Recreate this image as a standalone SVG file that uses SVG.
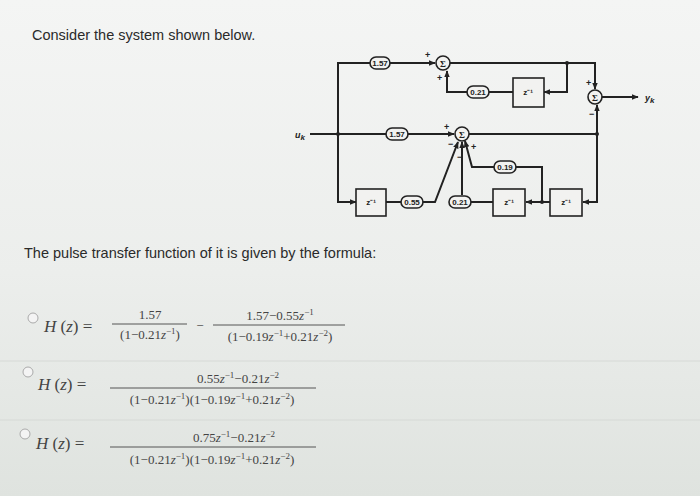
<svg xmlns="http://www.w3.org/2000/svg" width="700" height="496" viewBox="0 0 700 496">
<defs>
<linearGradient id="bg" x1="0" y1="0" x2="0" y2="1"><stop offset="0" stop-color="#f4f5f4"/><stop offset="0.55" stop-color="#eceeec"/><stop offset="1" stop-color="#dfe3df"/></linearGradient>
<marker id="ar" viewBox="0 0 10 10" refX="9" refY="5" markerWidth="3.5" markerHeight="3.5" orient="auto-start-reverse"><path d="M0,1 L10,5 L0,9 z" fill="#222"/></marker>
<style>
.w{stroke:#222;stroke-width:2;fill:none}
.ov{fill:#f2f2f0;stroke:#222;stroke-width:1.6}
.bx{fill:#f2f2f0;stroke:#222;stroke-width:1.6}
.ot{font-family:"Liberation Sans",sans-serif;font-size:8px;font-weight:bold;fill:#222;text-anchor:middle}
.sg{font-family:"Liberation Serif",serif;font-size:9px;font-weight:bold;fill:#222;text-anchor:middle}
.sm{font-family:"Liberation Sans",sans-serif;font-size:9px;font-weight:bold;fill:#222}
.q{font-family:"Liberation Sans",sans-serif;font-size:14.5px;fill:#2a2a2a}
.m{font-family:"Liberation Serif",serif;font-size:13px;fill:#444}
.mi{font-family:"Liberation Serif",serif;font-size:17px;font-style:italic;fill:#444}
.c{text-anchor:middle}
.r{fill:#f4f4f4;stroke:#aaa;stroke-width:1}
</style>
</defs>
<rect width="700" height="496" fill="url(#bg)"/>
<text x="32" y="40" class="q">Consider the system shown below.</text>
<text x="24" y="258" class="q">The pulse transfer function of it is given by the formula:</text>
<g id="connectors">
<path class="w" d="M310,134 H338 V63 H372"/>
<path class="w" d="M388,63 H435" marker-end="url(#ar)"/>
<path class="w" d="M450,63 H595 V89" marker-end="url(#ar)"/>
<path class="w" d="M567,63 V92 H544" marker-end="url(#ar)"/>
<path class="w" d="M513,92 H487"/>
<path class="w" d="M469,92 H447 V71" marker-end="url(#ar)"/>
<path class="w" d="M602,97 H638" marker-end="url(#ar)"/>
<path class="w" d="M338,134 H388"/>
<path class="w" d="M406,134 H454" marker-end="url(#ar)"/>
<path class="w" d="M469,134 H597 V105" marker-end="url(#ar)"/>
<path class="w" d="M597,134 V202 H583" marker-end="url(#ar)"/>
<path class="w" d="M550,202 H526" marker-end="url(#ar)"/>
<path class="w" d="M542,202 V167 H514"/>
<path class="w" d="M496,167 H472 L465,141" marker-end="url(#ar)"/>
<path class="w" d="M493,202 H469"/>
<path class="w" d="M462,195 V142" marker-end="url(#ar)"/>
<path class="w" d="M338,134 V202 H356" marker-end="url(#ar)"/>
<path class="w" d="M386,202 H402"/>
<path class="w" d="M422,202 H435 L458,142" marker-end="url(#ar)"/>
<circle cx="338" cy="134" r="2" fill="#222"/><circle cx="567" cy="63" r="2" fill="#222"/><circle cx="597" cy="134" r="2" fill="#222"/><circle cx="542" cy="202" r="2" fill="#222"/>
</g>
<g id="g1"><rect x="370" y="57" width="20" height="12" rx="6" class="ov"/><text x="380" y="66" class="ot">1.57</text></g>
<g id="s1"><circle cx="443" cy="63" r="7" class="ov"/><text x="443" y="66.5" class="sg">Σ</text></g>
<g id="d1"><rect x="513" y="78" width="31" height="29" class="bx"/><text x="528" y="95" class="ot">z⁻¹</text></g>
<g id="g2"><rect x="467" y="86" width="22" height="12" rx="6" class="ov"/><text x="478" y="95" class="ot">0.21</text></g>
<g id="s3"><circle cx="595" cy="97" r="7" class="ov"/><text x="595" y="100.5" class="sg">Σ</text></g>
<g id="g3"><rect x="386" y="128" width="22" height="12" rx="6" class="ov"/><text x="397" y="137" class="ot">1.57</text></g>
<g id="s2"><circle cx="462" cy="134" r="7" class="ov"/><text x="462" y="137.5" class="sg">Σ</text></g>
<g id="d2"><rect x="356" y="189" width="30" height="27" class="bx"/><text x="371" y="205" class="ot">z⁻¹</text></g>
<g id="g4"><rect x="401" y="196" width="22" height="12" rx="6" class="ov"/><text x="412" y="205" class="ot">0.55</text></g>
<g id="g5"><rect x="449" y="196" width="22" height="12" rx="6" class="ov"/><text x="460" y="205" class="ot">0.21</text></g>
<g id="d3"><rect x="493" y="189" width="32" height="27" class="bx"/><text x="509" y="205" class="ot">z⁻¹</text></g>
<g id="d4"><rect x="550" y="189" width="32" height="27" class="bx"/><text x="566" y="205" class="ot">z⁻¹</text></g>
<g id="g6"><rect x="494" y="161" width="22" height="12" rx="6" class="ov"/><text x="505" y="170" class="ot">0.19</text></g>
<g id="labels">
<text x="295" y="138" class="sm" font-size="11" font-style="italic">u<tspan font-size="8" dy="2">k</tspan></text>
<text x="645" y="101" class="sm" font-size="12" font-style="italic">y<tspan font-size="8" dy="2">k</tspan></text>
<text x="425" y="58" class="sm">+</text><text x="437" y="81" class="sm">+</text>
<text x="586" y="86" class="sm">+</text><text x="589" y="117" class="sm">−</text>
<text x="444" y="130" class="sm">+</text><text x="448" y="147" class="sm">−</text>
<text x="457" y="160" class="sm">−</text><text x="471" y="150" class="sm">+</text>
</g>
<g id="opt1">
<circle cx="33" cy="318" r="5" class="r"/>
<text x="44" y="332" class="mi">H<tspan font-style="normal"> (</tspan>z<tspan font-style="normal">) =</tspan></text>
<line x1="112" y1="324" x2="187" y2="324" stroke="#555"/>
<text x="150" y="319" class="m c">1.57</text>
<text x="150" y="339" class="m c">(1−0.21<tspan font-style="italic">z</tspan><tspan font-size="9" dy="-5">−1</tspan><tspan dy="5">)</tspan></text>
<text x="200" y="330" class="m c" font-size="15">−</text>
<line x1="213" y1="325" x2="345" y2="325" stroke="#555"/>
<text x="280" y="320" class="m c">1.57−0.55<tspan font-style="italic">z</tspan><tspan font-size="9" dy="-5">−1</tspan></text>
<text x="280" y="341" class="m c">(1−0.19<tspan font-style="italic">z</tspan><tspan font-size="9" dy="-5">−1</tspan><tspan dy="5">+0.21</tspan><tspan font-style="italic">z</tspan><tspan font-size="9" dy="-5">−2</tspan><tspan dy="5">)</tspan></text>
</g>
<line x1="0" y1="361" x2="700" y2="361" stroke="#d6d9d6"/>
<g id="opt2">
<circle cx="28" cy="372" r="5" class="r"/>
<text x="38" y="390" class="mi">H<tspan font-style="normal"> (</tspan>z<tspan font-style="normal">) =</tspan></text>
<line x1="110" y1="388" x2="316" y2="388" stroke="#555"/>
<text x="238" y="383" class="m c">0.55<tspan font-style="italic">z</tspan><tspan font-size="9" dy="-5">−1</tspan><tspan dy="5">−0.21</tspan><tspan font-style="italic">z</tspan><tspan font-size="9" dy="-5">−2</tspan></text>
<text x="212" y="404" class="m c">(1−0.21<tspan font-style="italic">z</tspan><tspan font-size="9" dy="-5">−1</tspan><tspan dy="5">)(1−0.19</tspan><tspan font-style="italic">z</tspan><tspan font-size="9" dy="-5">−1</tspan><tspan dy="5">+0.21</tspan><tspan font-style="italic">z</tspan><tspan font-size="9" dy="-5">−2</tspan><tspan dy="5">)</tspan></text>
</g>
<line x1="0" y1="420" x2="700" y2="420" stroke="#d6d9d6"/>
<g id="opt3">
<circle cx="25" cy="434" r="5" class="r"/>
<text x="36" y="449" class="mi">H<tspan font-style="normal"> (</tspan>z<tspan font-style="normal">) =</tspan></text>
<line x1="110" y1="447" x2="316" y2="447" stroke="#555"/>
<text x="234" y="442" class="m c">0.75<tspan font-style="italic">z</tspan><tspan font-size="9" dy="-5">−1</tspan><tspan dy="5">−0.21</tspan><tspan font-style="italic">z</tspan><tspan font-size="9" dy="-5">−2</tspan></text>
<text x="212" y="464" class="m c">(1−0.21<tspan font-style="italic">z</tspan><tspan font-size="9" dy="-5">−1</tspan><tspan dy="5">)(1−0.19</tspan><tspan font-style="italic">z</tspan><tspan font-size="9" dy="-5">−1</tspan><tspan dy="5">+0.21</tspan><tspan font-style="italic">z</tspan><tspan font-size="9" dy="-5">−2</tspan><tspan dy="5">)</tspan></text>
</g>
</svg>
